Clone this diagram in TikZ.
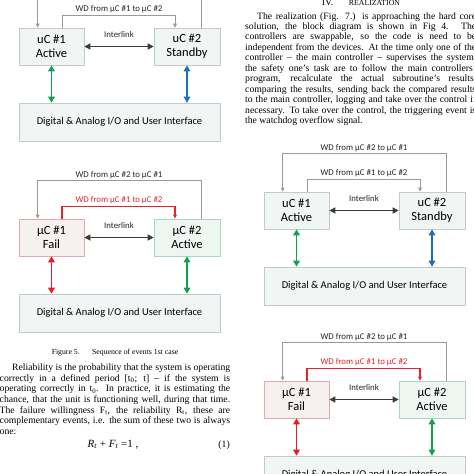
\documentclass[tikz,border=0pt]{standalone}
\usepackage{fontspec}
\setmainfont{Liberation Serif}
\newfontfamily\diagfont{Carlito}
\usetikzlibrary{arrows.meta,shadows}
\definecolor{boxfill}{HTML}{F1F5F3}
\definecolor{boxdraw}{HTML}{C2CCC7}
\definecolor{failfill}{HTML}{F7F0F0}
\definecolor{faildraw}{HTML}{E2A9A9}
\definecolor{actfill}{HTML}{EEF6F2}
\definecolor{actdraw}{HTML}{A9D6C0}
\definecolor{wdgray}{HTML}{9A9A9A}
\definecolor{wdred}{HTML}{E3262B}
\definecolor{iogreen}{HTML}{12A150}
\definecolor{ioblue}{HTML}{1C6FB8}
\definecolor{iored}{HTML}{E51E25}
\definecolor{linkgray}{HTML}{3C3C3C}
\tikzset{
  bx/.style={draw=boxdraw, fill=boxfill, line width=0.6pt, inner sep=0pt, align=center,
    drop shadow={shadow xshift=0.9pt, shadow yshift=-0.9pt, fill=black, opacity=0.13},
    font=\diagfont\fontsize{12.5}{14}\selectfont},
  b1 normal/.style={}, b2 normal/.style={},
  b1 fail/.style={draw=faildraw, fill=failfill},
  b2 fail/.style={draw=actdraw, fill=actfill},
  iobox/.style={bx, font=\diagfont\fontsize{10.5}{12}\selectfont},
  lab/.style={font=\diagfont\fontsize{8.8}{9.5}\selectfont, inner sep=0pt, text=black!85},
  lab normal/.style={}, lab fail/.style={text=wdred},
  wd/.style={draw=wdgray, line width=0.6pt, -{Triangle[length=4pt,width=3.6pt]}},
  wd normal/.style={}, wd fail/.style={draw=wdred, line width=1.1pt},
  link/.style={draw=linkgray, line width=1.5pt, {Triangle[length=6pt,width=6pt]}-{Triangle[length=6pt,width=6pt]}},
  iolink/.style={line width=1.6pt, {Triangle[length=6pt,width=6.5pt]}-{Triangle[length=6pt,width=6.5pt]}},
  io1 normal/.style={draw=iogreen}, io2 normal/.style={draw=ioblue},
  io1 fail/.style={draw=iored}, io2 fail/.style={draw=iogreen},
  bodyline/.style={anchor=base west, inner sep=0pt, font=\fontsize{9.7}{10.5}\selectfont},
}
\newcommand\diag[6]{%
\begin{scope}[shift={(#1,#2)}, name prefix=#3-]
  \node[bx, b1 #4, minimum width=65pt, minimum height=37pt] (b1) at (51.5,46.5) {#5};
  \node[bx, b2 #4, minimum width=66pt, minimum height=37pt] (b2) at (187,46.5) {#6};
  \node[iobox, minimum width=201pt, minimum height=38pt] (io) at (119.5,122) {Digital \& Analog I/O and User Interface};
  \node[lab, lab #4] (l12) at (119,9) {WD from µC \#1 to µC \#2};
  \node[lab] (il) at (119,34) {Interlink};
  \draw[wd] ([xshift=14pt]b2.north) -- ++(0,-38) -| ([xshift=-13.8pt]b1.north);
  \draw[wd, wd #4] ([xshift=10.5pt]b1.north) -- ++(0,-12) -| ([xshift=-12pt]b2.north);
  \draw[link] (b1.east) -- (b2.west);
  \draw[iolink, io1 #4] (b1.south) -- (b1.south |- io.north);
  \draw[iolink, io2 #4] (b2.south) -- (b2.south |- io.north);
\end{scope}}
\begin{document}
\begin{tikzpicture}[x=1pt,y=-1pt]
\useasboundingbox (0,0) rectangle (474,474);
\fill[white] (0,0) rectangle (474,474);
% diagrams
\diag{0}{0}{d1}{normal}{uC \#1\\Active}{uC \#2\\Standby}
\diag{0}{191}{d2}{fail}{µC \#1\\Fail}{µC \#2\\Active}
\node[lab] (d2-l21) at (119,175) {WD from µC \#2 to µC \#1};
\diag{245}{164}{d3}{normal}{uC \#1\\Active}{uC \#2\\Standby}
\node[lab] (d3-l21) at (364,148) {WD from µC \#2 to µC \#1};
\diag{245}{353}{d4}{fail}{µC \#1\\Fail}{µC \#2\\Active}
\node[lab] (d4-l21) at (364,337) {WD from µC \#2 to µC \#1};
% left column text
\node[inner sep=0pt, font=\fontsize{7.75}{8.5}\selectfont] (cap) at (115,353) {Figure 5.\hspace{1.6em}Sequence of events 1st case};
\node[bodyline] (p1) at (12,370.3) {\makebox[218pt][s]{Reliability is the probability that the system is operating}};
\node[bodyline] (p2) at (-0.5,381) {\makebox[230.5pt][s]{correctly in a defined period [t\textsubscript{0}; t] -- if the system is}};
\node[bodyline] (p3) at (-0.5,391.7) {\makebox[230.5pt][s]{operating correctly in t\textsubscript{0}. In practice, it is estimating the}};
\node[bodyline] (p4) at (-0.5,402.3) {\makebox[230.5pt][s]{chance, that the unit is functioning well, during that time.}};
\node[bodyline] (p5) at (-0.5,413) {\makebox[230.5pt][s]{The failure willingness F\textsubscript{t}, the reliability R\textsubscript{t}, these are}};
\node[bodyline] (p6) at (-0.5,423.7) {\makebox[230.5pt][s]{complementary events, i.e. the sum of these two is always}};
\node[bodyline] (p7) at (-0.5,434.4) {one:};
\node[anchor=base, inner sep=0pt, font=\fontsize{11}{12}\selectfont] (eq) at (113,447) {\textit{R}\textsubscript{\textit{t}} + \textit{F}\textsubscript{\textit{t}} =1 ,};
\node[anchor=base east, inner sep=0pt, font=\fontsize{9.7}{11}\selectfont] (eqn) at (230,447) {(1)};
% right column text
\node[anchor=base, inner sep=0pt, font=\fontsize{9.7}{10}\selectfont] (sec) at (361,5) {IV.\hspace{1.6em}{\fontsize{7.8}{8}\selectfont REALIZATION}};
\node[bodyline] (r1) at (257,19) {\makebox[219pt][s]{The realization (Fig. 7.) is approaching the hard core}};
\node[bodyline] (r2) at (245,29.5) {\makebox[231pt][s]{solution, the block diagram is shown in Fig 4. The}};
\node[bodyline] (r3) at (245,39.9) {\makebox[231pt][s]{controllers are swappable, so the code is need to be}};
\node[bodyline] (r4) at (245,50.4) {\makebox[231pt][s]{independent from the devices. At the time only one of the}};
\node[bodyline] (r5) at (245,60.9) {\makebox[231pt][s]{controller -- the main controller -- supervises the system,}};
\node[bodyline] (r6) at (245,71.4) {\makebox[231pt][s]{the safety one's task are to follow the main controllers'}};
\node[bodyline] (r7) at (245,81.8) {\makebox[231pt][s]{program, recalculate the actual subroutine's results,}};
\node[bodyline] (r8) at (245,92.3) {\makebox[231pt][s]{comparing the results, sending back the compared results}};
\node[bodyline] (r9) at (245,102.8) {\makebox[231pt][s]{to the main controller, logging and take over the control if}};
\node[bodyline] (r10) at (245,113.2) {\makebox[231pt][s]{necessary. To take over the control, the triggering event is}};
\node[bodyline] (r11) at (245,123.7) {the watchdog overflow signal.};
\end{tikzpicture}
\end{document}
